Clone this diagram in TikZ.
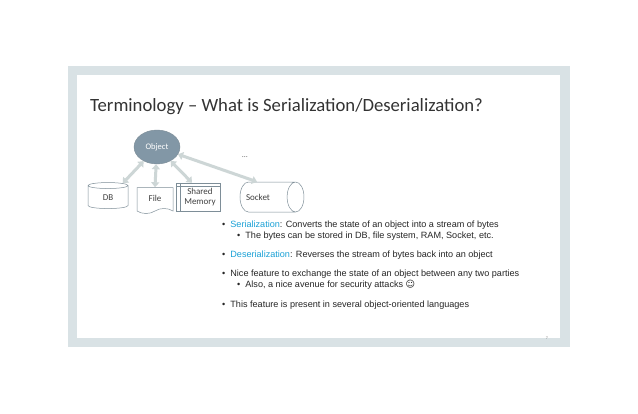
\documentclass[tikz,border=0pt]{standalone}
\usepackage{fontspec}
\setmainfont{Carlito}
\newfontfamily\arial{Liberation Sans}
\usetikzlibrary{shapes.geometric,shapes.symbols,arrows.meta}
\definecolor{frame}{HTML}{D9E2E5}
\definecolor{obj}{HTML}{8297A6}
\definecolor{arr}{HTML}{CDD6D6}
\definecolor{ln}{HTML}{7E8E98}
\definecolor{cy}{HTML}{1BA1D6}
\tikzset{
 shp/.style={draw=ln,fill=white,line width=0.5pt,font=\fontsize{9}{10}\selectfont,text=black!75,align=center},
 dbl/.style={draw=arr,line width=3pt,{Triangle[length=5pt,width=8pt]}-{Triangle[length=5pt,width=8pt]}},
 bul/.style={anchor=west,font=\arial\fontsize{9.1}{10}\selectfont,text=black!85,inner sep=0pt},
}
\begin{document}
\begin{tikzpicture}[x=1pt,y=-1pt]
\useasboundingbox (0,0) rectangle (638,413);
\fill[frame] (68,66) rectangle (570,347);
\fill[white] (77,75) rectangle (560,338);
\node[anchor=west,font=\fontsize{18.7}{22}\selectfont,text=black!80,inner sep=0pt] (title) at (90,107) {Terminology -- What is Serialization/Deserialization?};
\node[ellipse,fill=obj,draw=ln,minimum width=46pt,minimum height=34pt,font=\fontsize{8.5}{9}\selectfont,text=white] (obj) at (157,147) {Object};
\node[shp,cylinder,shape border rotate=90,aspect=0.35,minimum width=40pt,minimum height=26pt] (db) at (108,198) {DB};
\node[shp,tape,tape bend top=none,minimum width=36pt,minimum height=26pt] (file) at (155,198) {File};
\node[shp,rectangle,minimum width=44pt,minimum height=28pt,inner sep=1pt] (mem) at (198,197) {\hspace*{4pt}Shared\\\hspace*{4pt}Memory};
\draw[ln,line width=0.5pt] ([xshift=4pt]mem.north west) -- ([xshift=4pt]mem.south west);
\draw[ln,line width=0.5pt] ([yshift=-3pt]mem.north west) -- ([yshift=-3pt]mem.north east);
\node[shp,cylinder,aspect=1.3,minimum width=30pt,minimum height=64pt] (sock) at (265,197) {\hspace*{-14pt}Socket};
\node[font=\fontsize{8}{9}\selectfont,text=black!60] (dots) at (245,157) {\dots};
\draw[dbl] (obj) -- (db.north east);
\draw[dbl] (obj) -- (file.north);
\draw[dbl] (obj) -- ([xshift=-6pt]mem.north);
\draw[dbl] (obj) -- ([xshift=-8pt]sock.north);
\foreach \y/\t in {225/{\textcolor{cy}{Serialization}: Converts the state of an object into a stream of bytes},
 255/{\textcolor{cy}{Deserialization}: Reverses the stream of bytes back into an object},
 274/{Nice feature to exchange the state of an object between any two parties},
 305/{This feature is present in several object-oriented languages}}
 {\node[bul] at (222,\y) {\textbullet\hspace{5pt}\t};}
\node[bul] (s1) at (237,236) {\textbullet\hspace{5pt}The bytes can be stored in DB, file system, RAM, Socket, etc.};
\node[bul] (s2) at (237,285) {\textbullet\hspace{5pt}Also, a nice avenue for security attacks {\fontspec{DejaVu Sans}\char"263A}};
\node[font=\fontsize{4}{4}\selectfont,text=black!50] (pg) at (547,338) {7};
\end{tikzpicture}
\end{document}
